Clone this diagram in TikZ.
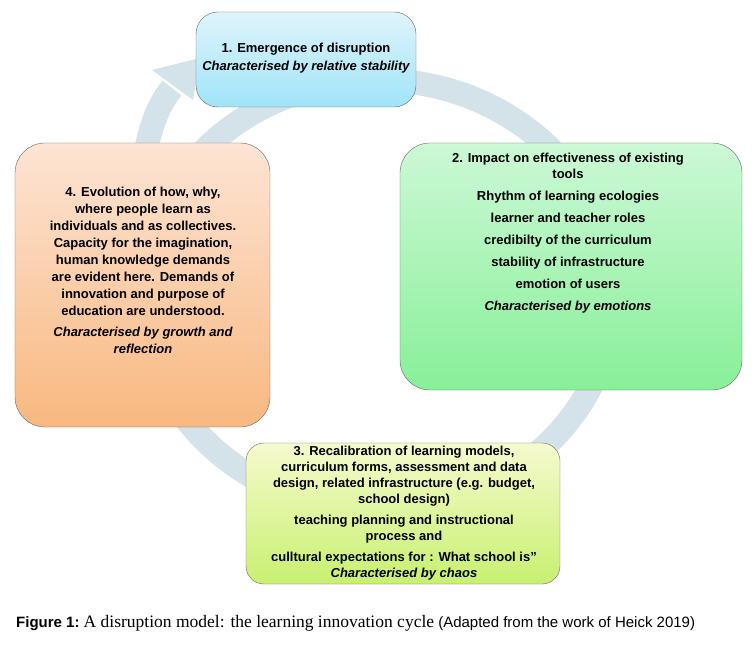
\documentclass[tikz,border=0pt]{standalone}
\usepackage{fontspec}
\setmainfont{Liberation Sans}
\newfontfamily\tnr{Liberation Serif}
\begin{document}
\begin{tikzpicture}[x=1pt,y=-1pt,
  band/.style={line width=24pt,color={rgb,255:red,212;green,226;blue,234}}]
\useasboundingbox (0,0) rectangle (756,650);
\definecolor{ba}{RGB}{223,244,252}\definecolor{bb}{RGB}{160,228,248}
\definecolor{ga}{RGB}{204,248,214}\definecolor{gb}{RGB}{136,240,152}
\definecolor{ya}{RGB}{246,250,206}\definecolor{yb}{RGB}{200,240,112}
\definecolor{pa}{RGB}{253,228,212}\definecolor{pb}{RGB}{248,184,128}
% cycle arrow
\draw[band] (378,295) ellipse [x radius=235, y radius=215];
\fill[white] (130,60) rectangle (200,130);
\draw[band] (143,170) .. controls (148,130) and (158,105) .. (172,88);
\fill[color={rgb,255:red,212;green,226;blue,234}] (152,70) -- (200,58) -- (193,100) -- cycle;
% boxes
\shade[top color=ba,bottom color=bb,rounded corners=22pt] (196,12) rectangle (416,107);
\draw[gray!80!black,rounded corners=22pt] (196,12) rectangle (416,107);
\node[font=\fontsize{13}{18}\selectfont\bfseries,align=center] (n1) at (306,58)
  {1. Emergence of disruption\\\itshape Characterised by relative stability};
\shade[top color=ga,bottom color=gb,rounded corners=30pt] (400,143) rectangle (742,390);
\draw[gray!80!black,rounded corners=30pt] (400,143) rectangle (742,390);
\node[font=\fontsize{13}{22}\selectfont\bfseries,align=center] (n2) at (568,233)
  {2. Impact on effectiveness of existing\\[-6pt] tools\\ Rhythm of learning ecologies\\ learner and teacher roles\\ credibilty of the curriculum\\ stability of infrastructure\\ emotion of users\\ \itshape Characterised by emotions};
\shade[top color=pa,bottom color=pb,rounded corners=30pt] (15,143) rectangle (270,427);
\draw[gray!80!black,rounded corners=30pt] (15,143) rectangle (270,427);
\node[font=\fontsize{13}{17}\selectfont\bfseries,align=center] (n4) at (143,270)
  {4. Evolution of how, why,\\ where people learn as\\ individuals and as collectives.\\ Capacity for the imagination,\\ human knowledge demands\\ are evident here. Demands of\\ innovation and purpose of\\ education are understood.\\[4pt] \itshape Characterised by growth and\\ \itshape reflection};
\shade[top color=ya,bottom color=yb,rounded corners=18pt] (246,443) rectangle (560,584);
\draw[gray!80!black,rounded corners=18pt] (246,443) rectangle (560,584);
\node[font=\fontsize{13}{16}\selectfont\bfseries,align=center] (n3) at (404,513)
  {3. Recalibration of learning models,\\ curriculum forms, assessment and data\\ design, related infrastructure (e.g. budget,\\ school design)\\[5pt] teaching planning and instructional\\ process and\\[5pt] culltural expectations for : What school is\symbol{34}\\ \itshape Characterised by chaos};
% caption
\node[anchor=west,inner sep=0pt] (cap) at (16,623)
  {\fontsize{15}{17}\selectfont\bfseries Figure 1:\mdseries\ {\tnr\fontsize{17.5}{17}\selectfont A disruption model: the learning innovation cycle} (Adapted from the work of Heick 2019)};
\end{tikzpicture}
\end{document}
